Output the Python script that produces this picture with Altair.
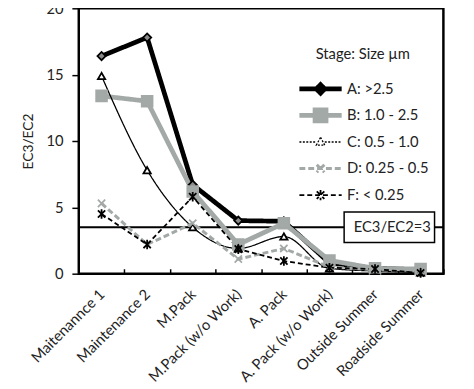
import altair as alt
import pandas as pd

categories = ["Maitenannce 1", "Maintenance 2", "M.Pack", "M.Pack (w/o Work)",
              "A. Pack", "A. Pack (w/o Work)", "Outside Summer", "Roadside Summer"]
stages = ["A: >2.5", "B: 1.0 - 2.5", "C: 0.5 - 1.0", "D: 0.25 - 0.5", "F: < 0.25"]
vals_A = [16.4, 17.8, 6.7, 4.0, 3.95, 0.8, 0.4, 0.3]
vals_B = [13.4, 13.0, 6.2, 2.2, 3.8, 1.0, 0.4, 0.35]
vals_C = [14.9, 7.8, 3.5, 1.9, 2.8, 0.4, 0.2, 0.1]
vals_D = [5.3, 2.2, 3.8, 1.1, 1.9, 0.5, 0.3, 0.2]
vals_F = [4.5, 2.2, 5.8, 1.85, 0.95, 0.45, 0.35, 0.05]
threshold = [3.5]
threshold_label = ["EC3/EC2=3"]

rows = []
for s, vals in zip(stages, [vals_A, vals_B, vals_C, vals_D, vals_F]):
    for c, v in zip(categories, vals):
        rows.append({"stage": s, "category": c, "value": v})
df = pd.DataFrame(rows)
thr = pd.DataFrame({"value": threshold, "label": threshold_label})

GREY = "#a3a9a6"
FONT = "Lato"

stroke_scale = alt.Scale(domain=stages, range=["black", GREY, "black", GREY, "black"])
fill_scale = alt.Scale(domain=stages, range=["#8a8a8a", GREY, "white", "transparent", "transparent"])
width_scale = alt.Scale(type="ordinal", domain=stages, range=[4.8, 4.8, 1.3, 3.0, 1.8])
dash_scale = alt.Scale(domain=stages, range=[[1, 0], [1, 0], [1, 0], [6, 3], [5, 3]])
marker_scale = alt.Scale(domain=stages, range=[
    "diamond", "square", "triangle-up",
    "M-1,-1L1,1M1,-1L-1,1",
    "M-1,-1L1,1M1,-1L-1,1M0,-1.3L0,1.3"])
msize_scale = alt.Scale(type="ordinal", domain=stages, range=[70, 120, 55, 55, 55])

legend_paths = [
    "M-1,0L1,0M0,-0.2L0.2,0L0,0.2L-0.2,0Z",
    "M-1,0L1,0M-0.26,-0.26L0.26,-0.26L0.26,0.26L-0.26,0.26Z",
    "M-1,0L-0.2,0M0.2,0L1,0M0,-0.22L0.2,0.15L-0.2,0.15Z",
    "M-1,0L1,0M-0.18,-0.18L0.18,0.18M0.18,-0.18L-0.18,0.18",
    "M-1,0L1,0M-0.18,-0.18L0.18,0.18M0.18,-0.18L-0.18,0.18M0,-0.24L0,0.24",
]
legend_dash = alt.Scale(domain=stages, range=[[1, 0], [1, 0], [2, 1.5], [6, 3], [5, 3]])

x_enc = alt.X("category:N", sort=categories, title=None,
              scale=alt.Scale(type="band", paddingInner=0, paddingOuter=0),
              axis=alt.Axis(labelAngle=-45, labelAlign="right", labelBaseline="middle",
                            labelFontSize=15, labelColor="#222", labelPadding=18,
                            tickBand="extent", tickSize=5, tickColor="black", tickWidth=1.5,
                            offset=-5, domain=False, grid=False))
y_enc = alt.Y("value:Q", title="EC3/EC2",
              scale=alt.Scale(domain=[0, 20], nice=False),
              axis=alt.Axis(values=[0, 5, 10, 15, 20], grid=False, domain=False,
                            tickSize=7, tickColor="black", tickWidth=1.5,
                            labelFontSize=15, labelColor="#222", labelPadding=9,
                            titleFontSize=14, titleFontWeight="normal", titleColor="#222",
                            titlePadding=11))

base = alt.Chart(df)
common = dict(
    x=x_enc, y=y_enc,
    stroke=alt.Stroke("stage:N", scale=stroke_scale, legend=None),
    strokeWidth=alt.StrokeWidth("stage:N", scale=width_scale, legend=None),
    strokeDash=alt.StrokeDash("stage:N", scale=dash_scale, legend=None),
)

lines_ab = base.transform_filter(alt.FieldOneOfPredicate(field="stage", oneOf=stages[:2])) \
    .mark_line().encode(**common)
lines_c = base.transform_filter(alt.FieldEqualPredicate(field="stage", equal=stages[2])) \
    .mark_line(interpolate="monotone").encode(**common)
lines_df = base.transform_filter(alt.FieldOneOfPredicate(field="stage", oneOf=stages[3:])) \
    .mark_line().encode(**common)

points = base.mark_point(opacity=1, strokeWidth=1.8).encode(
    x=x_enc, y=y_enc,
    stroke=alt.Stroke("stage:N", scale=stroke_scale, legend=None),
    fill=alt.Fill("stage:N", scale=fill_scale, legend=None),
    shape=alt.Shape("stage:N", scale=marker_scale, legend=None),
    size=alt.Size("stage:N", scale=msize_scale, legend=None),
)

leg = alt.Legend(title="Stage: Size µm", orient="none", legendX=222, legendY=40,
                 titleAnchor="middle", titleFontSize=15, titleFontWeight="normal",
                 titleColor="#222", labelFontSize=15, labelColor="#222",
                 symbolSize=1849, clipHeight=20, rowPadding=7, labelOffset=3,
                 titlePadding=17)
legend_layer = base.transform_filter("false").mark_point(opacity=1).encode(
    stroke=alt.Stroke("stage:N", scale=stroke_scale, legend=leg),
    fill=alt.Fill("stage:N", scale=fill_scale, legend=leg),
    shape=alt.Shape("stage:N", scale=alt.Scale(domain=stages, range=legend_paths), legend=leg),
    strokeWidth=alt.StrokeWidth("stage:N", scale=width_scale, legend=leg),
    strokeDash=alt.StrokeDash("stage:N", scale=legend_dash, legend=leg),
)

rule = alt.Chart(thr).mark_rule(color="black", strokeWidth=2).encode(y=alt.Y("value:Q"))
box = alt.Chart(thr).mark_point(
    shape="M-1,-0.337L1,-0.337L1,0.337L-1,0.337Z", size=8464, fill="white",
    stroke="black", strokeWidth=1.5, opacity=1, filled=False
).encode(x=alt.value(316), y=alt.Y("value:Q"))
box_text = alt.Chart(thr).mark_text(fontSize=15, font=FONT, color="#222").encode(
    x=alt.value(319), y=alt.Y("value:Q"), text="label:N")

chart = alt.layer(rule, lines_ab, lines_c, lines_df, points, box, box_text, legend_layer) \
    .resolve_scale(shape="independent", strokeDash="independent", stroke="independent",
                   fill="independent", strokeWidth="independent", size="independent") \
    .properties(width=371, height=270, autosize="none",
                padding={"left": 72, "top": -3, "right": 23, "bottom": 114}) \
    .configure_view(stroke="black", strokeWidth=2.5) \
    .configure_axis(labelFont=FONT, titleFont=FONT) \
    .configure_legend(labelFont=FONT, titleFont=FONT) \
    .configure_text(font=FONT)

chart.save("out.html", embed_options={"renderer": "svg", "actions": False})
